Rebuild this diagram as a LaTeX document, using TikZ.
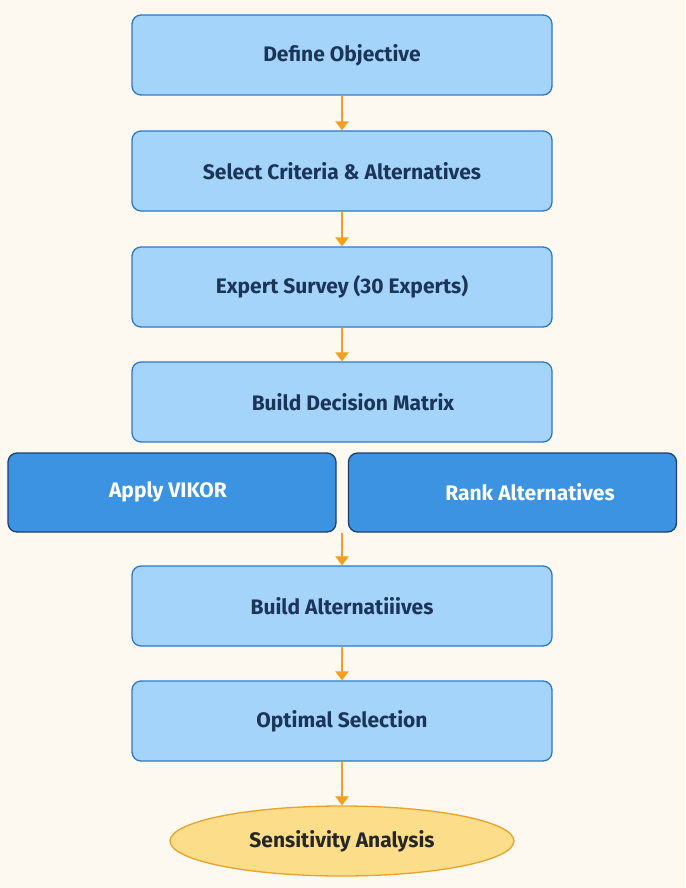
\documentclass[tikz,border=0pt]{standalone}
\usepackage{fontspec}
\setmainfont{Fira Sans}
\usetikzlibrary{shapes.geometric,arrows.meta}
\definecolor{bg}{HTML}{FDF9F0}
\definecolor{lfill}{HTML}{A5D4FB}
\definecolor{lborder}{HTML}{2E78C8}
\definecolor{dfill}{HTML}{3B93E2}
\definecolor{dborder}{HTML}{1E3F6E}
\definecolor{txt}{HTML}{1B3558}
\definecolor{arr}{HTML}{F59E1B}
\definecolor{efill}{HTML}{FCDD8A}
\definecolor{eborder}{HTML}{E8A22A}
\begin{document}
\begin{tikzpicture}[x=1pt,y=-1pt,
  lbox/.style={draw=lborder,line width=1.3pt,fill=lfill,rounded corners=9pt,minimum width=420pt,minimum height=80pt,font=\fontsize{21}{24}\selectfont\bfseries,text=txt},
  dbox/.style={draw=dborder,line width=1.3pt,fill=dfill,rounded corners=9pt,minimum width=328pt,minimum height=79pt},
  dtxt/.style={font=\fontsize{21}{24}\selectfont\bfseries,text=white},
  ar/.style={draw=arr,line width=2.2pt,-{Triangle[length=9pt,width=13pt]}}]
\fill[bg] (0,0) rectangle (685,888);
\useasboundingbox (0,0) rectangle (685,888);
\node[lbox] (b1) at (342,55) {Define Objective};
\node[lbox] (b2) at (342,171) {Select Criteria \& Alternatives};
\node[lbox] (b3) at (342,287) {Expert Survey (30 Experts)};
\node[lbox] (b4) at (342,402) {\hspace{22pt}Build Decision Matrix};
\node[dbox] (d1) at (172,492.5) {};
\node[dbox] (d2) at (512.5,492.5) {};
\node[dtxt] (t1) at (168,492) {Apply VIKOR};
\node[dtxt] (t2) at (530,492) {Rank Alternatives};
\node[lbox] (b5) at (342,606) {Build Alternatiiives};
\node[lbox] (b6) at (342,721) {Optimal Selection};
\node[ellipse,draw=eborder,line width=1.3pt,fill=efill,minimum width=344pt,minimum height=70pt,font=\fontsize{21}{24}\selectfont\bfseries,text=black!85] (e) at (342,841) {Sensitivity Analysis};
\draw[ar] (b1) -- (b2);
\draw[ar] (b2) -- (b3);
\draw[ar] (b3) -- (b4);
\coordinate (c) at (342,533);
\draw[ar] (c) -- (b5.north);
\draw[ar] (b5) -- (b6);
\draw[ar] (b6) -- (e);
\end{tikzpicture}
\end{document}
